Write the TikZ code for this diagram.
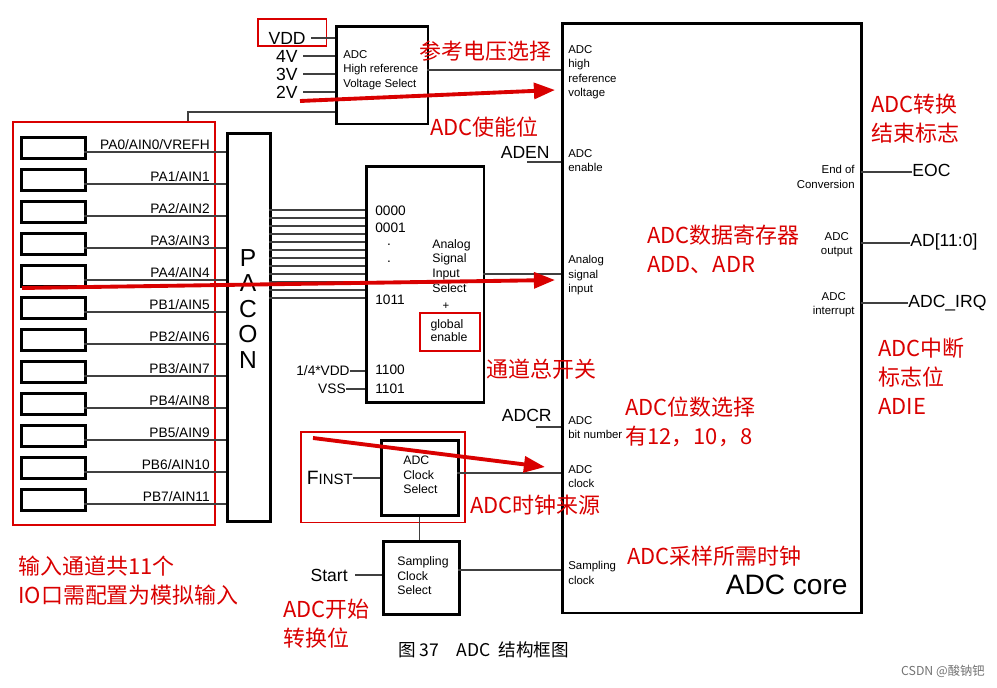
\documentclass[tikz,border=0pt]{standalone}
\usepackage{fontspec}
\setmainfont{Liberation Sans}
\newfontfamily\cjk{Noto Sans CJK SC}
\usetikzlibrary{arrows.meta}
\begin{document}
\begin{tikzpicture}[x=0.02cm,y=-0.02cm,
  blk/.style={draw,line width=1.6pt,inner sep=0pt,anchor=north west},
  bx/.style 2 args={minimum width={#1*0.5669pt},minimum height={#2*0.5669pt}},
  wire/.style={draw,line width=0.6pt,black!75},
  sm/.style={font=\fontsize{6.5}{8.2}\selectfont,align=left,inner sep=0pt},
  pin/.style={font=\fontsize{7.8}{9}\selectfont,inner sep=0pt},
  mid/.style={font=\fontsize{10}{12}\selectfont,inner sep=0pt},
  note/.style={font=\cjk\fontsize{12.5}{16.5}\selectfont,text=red!85!black,align=left,inner sep=0pt},
  rbox/.style={draw=red!85!black,line width=1pt,inner sep=0pt,anchor=north west},
  rarrow/.style={draw=red!85!black,line width=2.2pt,-{Triangle[length=12pt,width=9pt]}}]
\useasboundingbox (0,0) rectangle (997,687);
% core
\node[blk,bx={300}{592}] (core) at (561,22) {};
\node[font=\fontsize{16}{18}\selectfont,anchor=east,inner sep=0pt] (coret) at (848,585) {ADC core};
% vref
\node[blk,bx={92}{98}] (vref) at (335,25) {};
\node[sm,anchor=west] (vreft) at (343,70) {ADC\\High reference\\Voltage Select};
\node[rbox,bx={69}{27}] (vddbox) at (257,18) {};
\foreach \t/\y/\xx in {VDD/38/306,4V/56/298,3V/74/298,2V/92/298}{
  \node[mid,anchor=east] (v\t) at (\xx,\y) {\t};
  \coordinate (vi\t) at (335,\y);
  \draw[wire] ([xshift=3]v\t.east) -- (vi\t);}
\coordinate (vrefout) at (561,70);
\draw[wire] (427,70) -- (vrefout);
\coordinate (pa1) at (335,112); \coordinate (pa2) at (188,112); \coordinate (pa3) at (188,121);
\draw[wire] (pa1) -- (pa2) -- (pa3);
% inputs
\node[rbox,bx={203}{405}] (inbox) at (12,121) {};
\node[blk,bx={43}{390}] (pacon) at (226,132) {};
\foreach \l [count=\i from 0] in {P,A,C,O,N}
  \node[font=\fontsize{14}{16}\selectfont] (pc\i) at (248,258+25.5*\i) {\l};
\foreach \l [count=\i from 0] in {PA0/AIN0/VREFH,PA1/AIN1,PA2/AIN2,PA3/AIN3,PA4/AIN4,PB1/AIN5,PB2/AIN6,PB3/AIN7,PB4/AIN8,PB5/AIN9,PB6/AIN10,PB7/AIN11}{
  \node[blk,bx={64}{21}] (p\i) at (20,136+32*\i) {};
  \node[pin,anchor=south east] (pl\i) at (210,150+32*\i) {\l};
  \coordinate (pe\i) at (226,152+32*\i);
  \draw[wire] (84,152+32*\i) -- (pe\i);}
% mux
\node[blk,bx={118}{237}] (mux) at (365,165) {};
\foreach \i in {0,...,11}{\coordinate (mi\i) at (365,210+8*\i); \draw[wire] (269,210+8*\i) -- (mi\i);}
\node[pin,anchor=west] (m0) at (375,211) {0000};
\node[pin,anchor=west] (m1) at (375,228) {0001};
\node[pin] (md1) at (389,245) {.};
\node[pin] (md2) at (389,262) {.};
\node[pin,anchor=west] (m11) at (375,300) {1011};
\node[pin,anchor=west] (m12) at (375,370) {1100};
\node[pin,anchor=west] (m13) at (375,389) {1101};
\node[sm,anchor=west,font=\fontsize{7}{8.5}\selectfont] (muxt) at (432,266) {Analog\\Signal\\Input\\Select};
\node[sm] (plus) at (446,306) {+};
\node[sm,font=\fontsize{7}{7.5}\selectfont] (ge) at (449,331) {global\\enable};
\node[rbox,bx={60}{38}] (gebox) at (419,312) {};
\node[pin,anchor=east] (q) at (350,371) {1/4*VDD};
\node[pin,anchor=east] (vss) at (346,389) {VSS};
\coordinate (mq) at (365,371); \coordinate (mv) at (365,389);
\draw[wire] (q.east) -- (mq); \draw[wire] (vss.east) -- (mv);
\coordinate (ain) at (561,274);
\draw[wire] (483,274) -- (ain);
% core labels
\node[sm,anchor=north west] (c1) at (568,45) {ADC\\high\\reference\\voltage};
\node[sm,anchor=north west] (c2) at (568,149) {ADC\\enable};
\node[sm,anchor=north west] (c3) at (568,255) {Analog\\signal\\input};
\node[sm,anchor=north west] (c4) at (568,416) {ADC\\bit number};
\node[sm,anchor=north west] (c5) at (568,465) {ADC\\clock};
\node[sm,anchor=north west] (c6) at (568,561) {Sampling\\clock};
\node[sm,anchor=north east,align=right] (c7) at (855,165) {End of\\Conversion};
\node[sm,anchor=north east,align=center] (c8) at (853,232) {ADC\\output};
\node[sm,anchor=north east,align=center] (c9) at (855,292) {ADC\\interrupt};
% outputs
\node[mid,anchor=west] (eoc) at (912,170) {EOC};
\node[mid,anchor=west] (ad) at (910,242) {AD[11:0]};
\node[mid,anchor=west] (irq) at (908,303) {ADC\_IRQ};
\coordinate (o1) at (861,172); \coordinate (o2) at (861,243); \coordinate (o3) at (861,303);
\draw[wire] (o1) -- (eoc.west |- o1); \draw[wire] (o2) -- (ad.west |- o2); \draw[wire] (o3) -- (irq.west |- o3);
% ADEN, ADCR
\node[mid,anchor=east] (aden) at (550,152) {ADEN};
\coordinate (ae) at (561,162); \draw[wire] (527,162) -- (ae);
\node[mid,anchor=east] (adcr) at (552,415) {ADCR};
\coordinate (ar) at (561,427); \draw[wire] (536,427) -- (ar);
% clock select
\node[blk,bx={77}{75}] (clk) at (380,439) {};
\node[sm,anchor=west,font=\fontsize{7}{8.2}\selectfont] (clkt) at (403,475) {ADC\\Clock\\Select};
\node[rbox,bx={165}{91}] (clkbox) at (300,431) {};
\node[font=\fontsize{11}{13}\selectfont,anchor=east,inner sep=0pt] (finst) at (353,478) {F{\fontsize{8.5}{10}\selectfont INST}};
\coordinate (ci) at (380,478); \draw[wire] (finst.east) -- (ci);
\coordinate (cc) at (561,473); \draw[wire] (457,473) -- (cc);
\node[blk,bx={76}{73}] (smp) at (382,540) {};
\node[sm,anchor=west,font=\fontsize{7}{8.2}\selectfont] (smpt) at (397,576) {Sampling\\Clock\\Select};
\draw[wire] (clk.south) -- (clk.south |- smp.north);
\node[mid,anchor=east] (start) at (348,575) {Start};
\coordinate (si) at (382,575); \draw[wire] (355,575) -- (si);
\coordinate (sc) at (561,570); \draw[wire] (458,570) -- (sc);
% red arrows
\coordinate (a1s) at (300,101); \coordinate (a1e) at (555,90);
\coordinate (a2s) at (22,288); \coordinate (a2e) at (555,280);
\coordinate (a3s) at (313,438); \coordinate (a3e) at (545,467);
\draw[rarrow] (a1s) -- (a1e); \draw[rarrow] (a2s) -- (a2e); \draw[rarrow] (a3s) -- (a3e);
% notes
\node[note,anchor=west] (n1) at (419,51) {参考电压选择};
\node[note,anchor=west] (n2) at (430,127) {ADC使能位};
\node[note,anchor=west] (n3) at (871,119) {ADC转换\\结束标志};
\node[note,anchor=west] (n4) at (647,249) {ADC数据寄存器\\ADD、ADR};
\node[note,anchor=west] (n5) at (486,369) {通道总开关};
\node[note,anchor=west] (n6) at (878,376) {ADC中断\\标志位\\ADIE};
\node[note,anchor=west] (n7) at (625,422) {ADC位数选择\\有12，10，8};
\node[note,anchor=west] (n8) at (470,505) {ADC时钟来源};
\node[note,anchor=west] (n9) at (627,556) {ADC采样所需时钟};
\node[note,anchor=west] (n10) at (18,581) {输入通道共11个\\IO口需配置为模拟输入};
\node[note,anchor=west] (n11) at (283,624) {ADC开始\\转换位};
\node[font=\cjk\fontsize{10}{12}\selectfont,inner sep=0pt,anchor=west] (cap) at (398,650) {图 37\quad ADC\ \ 结构框图};
\node[font=\cjk\fontsize{7}{9}\selectfont,text=black!55,inner sep=0pt,anchor=east] (wm) at (985,671) {CSDN @酸钠钯};
\end{tikzpicture}
\end{document}
